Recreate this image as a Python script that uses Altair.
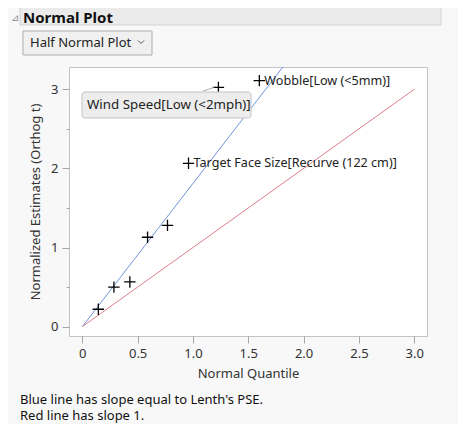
import altair as alt
import pandas as pd

# half-normal plot values
quantile = [0.145, 0.286, 0.43, 0.59, 0.77, 0.96, 1.23, 1.60]
estimate = [0.22, 0.50, 0.565, 1.13, 1.28, 2.065, 3.025, 3.11]
term = ["", "", "", "", "", "Target Face Size[Recurve (122 cm)]",
        "Wind Speed[Low (<2mph)]", "Wobble[Low (<5mm)]"]
boxed_term = "Wind Speed[Low (<2mph)]"

# reference lines: blue = Lenth's PSE slope, red = slope 1
line_name = ["Lenth", "Lenth", "One", "One"]
line_x = [0.0, 2.0, 0.0, 3.0]
line_y = [0.0, 3.62, 0.0, 3.0]

x_ticks = [0, 0.5, 1.0, 1.5, 2.0, 2.5, 3.0]
y_ticks = [0, 0.5, 1, 1.5, 2, 2.5, 3]

notes = ["Blue line has slope equal to Lenth's PSE.", "Red line has slope 1."]

FONT = "Noto Sans"
INK = "#333333"

pts = pd.DataFrame({"q": quantile, "est": estimate, "term": term})
lines = pd.DataFrame({"name": line_name, "q": line_x, "est": line_y})
ui = pd.DataFrame({"k": [0]})

xs = alt.Scale(domain=[-0.12, 3.115], nice=False, zero=False)
ys = alt.Scale(domain=[-0.118, 3.282], nice=False, zero=False)

x_axis = alt.Axis(values=x_ticks, grid=False, domain=False, tickColor="#a8a8a8", tickSize=7,
                  labelExpr="datum.value === 0 ? '0' : format(datum.value, '.1f')",
                  labelFont=FONT, labelFontSize=13, labelColor=INK, labelPadding=4,
                  title="Normal Quantile", titleFont=FONT, titleFontSize=13,
                  titleFontWeight="normal", titleColor=INK, titlePadding=7)
y_axis = alt.Axis(values=y_ticks, grid=False, domain=False, tickColor="#a8a8a8",
                  tickSize={"condition": {"test": "datum.value % 1 === 0", "value": 7}, "value": 3},
                  labelExpr="datum.value % 1 === 0 ? format(datum.value, 'd') : ''",
                  labelFont=FONT, labelFontSize=13, labelColor=INK, labelPadding=4,
                  title="Normalized Estimates (Orthog t)", titleFont=FONT, titleFontSize=13,
                  titleFontWeight="normal", titleColor=INK, titlePadding=8)

ref_lines = alt.Chart(lines).mark_line(clip=True, strokeWidth=1).encode(
    x=alt.X("q:Q", scale=xs, axis=x_axis),
    y=alt.Y("est:Q", scale=ys, axis=y_axis),
    color=alt.Color("name:N", scale=alt.Scale(domain=["Lenth", "One"],
                                              range=["#7393dc", "#dd7f8c"]), legend=None),
    detail="name:N",
)

plus = alt.Chart(pts).mark_point(shape="M-1,0H1M0,-1V1", size=130, filled=False,
                                 color="black", strokeWidth=1.3, opacity=1).encode(
    x=alt.X("q:Q", scale=xs), y=alt.Y("est:Q", scale=ys))

inline_labels = alt.Chart(pts).transform_filter(
    f"datum.term !== '' && datum.term !== '{boxed_term}'"
).mark_text(align="left", baseline="middle", dx=5, font=FONT, fontSize=12.6, color="#222222").encode(
    x=alt.X("q:Q", scale=xs), y=alt.Y("est:Q", scale=ys), text="term:N")

# JMP-style callout box for the hovered term
box = alt.Chart(ui).mark_rect(fill="#ededed", stroke="#c4c4c4", strokeWidth=1, cornerRadius=3).encode(
    x=alt.value(13), x2=alt.value(182), y=alt.value(25), y2=alt.value(51))
leader = alt.Chart(ui).mark_rule(color="#b0b0b0", strokeWidth=1).encode(
    x=alt.value(134), x2=alt.value(145), y=alt.value(24), y2=alt.value(20.5))
box_text = alt.Chart(pts).transform_filter(f"datum.term === '{boxed_term}'").mark_text(
    align="left", baseline="middle", font=FONT, fontSize=13.3, color="#222222").encode(
    x=alt.value(18), y=alt.value(38), text="term:N")

# outline header and dropdown above the plot
header = alt.Chart(ui).mark_rect(fill="#ebebeb", stroke="#d2d2d2", strokeWidth=1).encode(
    x=alt.value(-49), x2=alt.value(372), y=alt.value(-65), y2=alt.value(-42))
header_text = alt.Chart(ui).mark_text(align="left", baseline="middle", font=FONT, fontSize=15,
                                      fontWeight="bold", color="#111111").encode(
    x=alt.value(-46), y=alt.value(-49.5), text=alt.value("Normal Plot"))
toggle = alt.Chart(ui).mark_text(align="left", baseline="middle", font="DejaVu Sans", fontSize=10,
                                 color="#8a8a8a").encode(
    x=alt.value(-58), y=alt.value(-49.5), text=alt.value("⊿"))
button = alt.Chart(ui).mark_rect(fill="#f0f0f0", stroke="#adadad", strokeWidth=1).encode(
    x=alt.value(-46), x2=alt.value(83), y=alt.value(-36), y2=alt.value(-12))
button_text = alt.Chart(ui).mark_text(align="left", baseline="middle", font=FONT, fontSize=13,
                                      color="#222222").encode(
    x=alt.value(-39), y=alt.value(-24), text=alt.value("Half Normal Plot"))
chevron = alt.Chart(ui).mark_point(shape="M-1,-0.5L0,0.5L1,-0.5", size=36, filled=False,
                                   color="#555555", strokeWidth=1, opacity=1).encode(
    x=alt.value(72), y=alt.value(-25))

note_text = alt.Chart(ui).mark_text(align="left", baseline="middle", font=FONT, fontSize=13,
                                    lineHeight=16.5, color="#111111").encode(
    x=alt.value(-49), y=alt.value(332.5), text=alt.value(notes))

chart = alt.layer(
    ref_lines, plus, inline_labels, leader, box, box_text,
    header, header_text, toggle, button, button_text, chevron, note_text,
).properties(
    width=358, height=269,
    autosize=alt.AutoSizeParams(type="none"),
    padding={"left": 61, "top": 59, "right": 31, "bottom": 88},
    background="#f8f8f8",
).configure_view(fill="white", stroke="#c3c3c3", strokeWidth=1)

chart.save("out.html", embed_options={"renderer": "svg", "actions": False})
